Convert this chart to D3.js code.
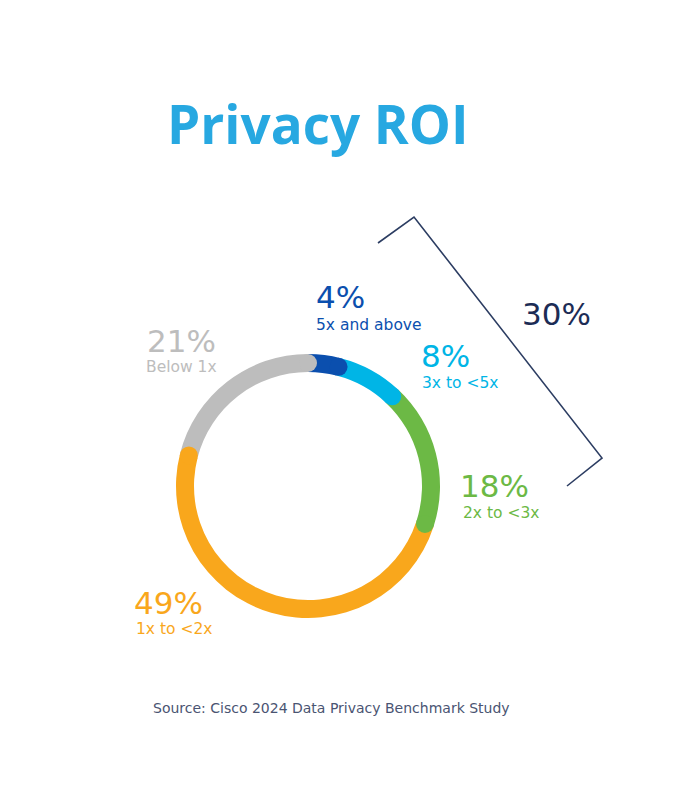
<!DOCTYPE html>
<html>
<head>
    <meta charset="utf-8">
    <title>Privacy ROI</title>
    <script src="https://d3js.org/d3.v7.min.js"></script>
    <style>
        body { margin: 0; background: #fff; }
        text { font-family: "DejaVu Sans", sans-serif; }
    </style>
</head>
<body>
    <div id="chart"></div>
    <script>
        // data, clockwise from 12 o'clock
        var categories = ["5x and above", "3x to <5x", "2x to <3x", "1x to <2x", "Below 1x"];
        var values = [4, 8, 18, 49, 21];
        var colors = ["#0b4fae", "#00b5e6", "#6cb945", "#f9a71c", "#bdbdbd"];
        var bracketLabel = "30%";
        var source = "Source: Cisco 2024 Data Privacy Benchmark Study";

        // label anchor points (layout only)
        var labelPos = [[316, 308], [421, 367], [460, 497], [134, 614], [147, 352]];
        var subOffset = [[0, 22], [1, 21], [3, 21], [2, 20], [-1, 20]];

        var width = 700, height = 785;
        var cx = 308, cy = 486, r = 123, thick = 18;

        var svg = d3.select("#chart")
            .append("svg")
            .attr("width", width)
            .attr("height", height);

        // title
        svg.append("text")
            .attr("x", 167)
            .attr("y", 144)
            .attr("fill", "#27a8e1")
            .style("font-family", "'Open Sans', sans-serif")
            .style("font-weight", "bold")
            .style("font-size", "53px")
            .text("Privacy ROI");

        var pie = d3.pie().sort(null).value(function (d) { return d; });
        var arcs = pie(values);

        var arc = d3.arc()
            .innerRadius(r - thick / 2)
            .outerRadius(r + thick / 2);

        var g = svg.append("g").attr("transform", "translate(" + cx + "," + cy + ")");

        g.selectAll("path")
            .data(arcs)
            .enter()
            .append("path")
            .attr("d", arc)
            .attr("fill", function (d, i) { return colors[i]; });

        // rounded end caps, each one drawn over the next segment's start
        g.selectAll("circle.cap")
            .data(arcs)
            .enter()
            .append("circle")
            .attr("class", "cap")
            .attr("cx", function (d) { return r * Math.sin(d.endAngle); })
            .attr("cy", function (d) { return -r * Math.cos(d.endAngle); })
            .attr("r", thick / 2)
            .attr("fill", function (d, i) { return colors[i]; });

        // labels
        var labels = svg.append("g");
        values.forEach(function (v, i) {
            labels.append("text")
                .attr("x", labelPos[i][0])
                .attr("y", labelPos[i][1])
                .attr("fill", colors[i])
                .style("font-size", "31px")
                .text(v + "%");
            labels.append("text")
                .attr("x", labelPos[i][0] + subOffset[i][0])
                .attr("y", labelPos[i][1] + subOffset[i][1])
                .attr("fill", colors[i])
                .style("font-size", "15.5px")
                .text(categories[i]);
        });

        // bracket
        svg.append("path")
            .attr("d", d3.line()([[378, 243], [414, 217], [602, 458], [567, 486]]))
            .attr("fill", "none")
            .attr("stroke", "#2c3d62")
            .attr("stroke-width", 1.6);

        svg.append("text")
            .attr("x", 522)
            .attr("y", 325)
            .attr("fill", "#1c2c55")
            .style("font-size", "31px")
            .text(bracketLabel);

        svg.append("text")
            .attr("x", 153)
            .attr("y", 713)
            .attr("fill", "#4a5472")
            .style("font-size", "14px")
            .text(source);
    </script>
</body>
</html>
